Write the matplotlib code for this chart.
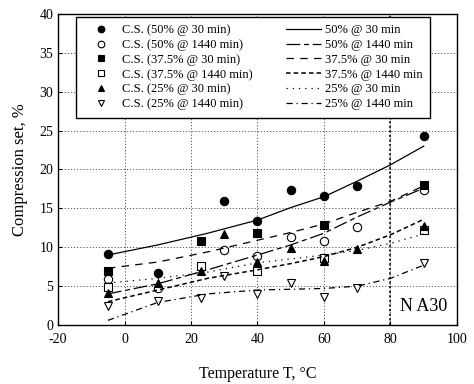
import matplotlib
matplotlib.use("Agg")
import matplotlib.pyplot as plt

plt.rcParams['font.family'] = ['Liberation Serif', 'DejaVu Serif']
plt.rcParams['axes.unicode_minus'] = False

# Measured points (temperature, compression set)
t50_30 = [-5, 10, 30, 40, 50, 60, 70, 90]
cs50_30 = [9.15, 6.75, 15.9, 13.4, 17.3, 16.55, 17.85, 24.35]
t50_1440 = [-5, 10, 30, 40, 50, 60, 70, 90]
cs50_1440 = [5.9, 4.7, 9.65, 8.9, 11.3, 10.75, 12.6, 17.4]
t375_30 = [-5, 23, 40, 60, 90]
cs375_30 = [6.96, 10.85, 11.8, 12.8, 18.05]
t375_1440 = [-5, 23, 40, 60, 90]
cs375_1440 = [4.95, 7.6, 7.0, 8.6, 12.25]
t25_30 = [-5, 10, 23, 30, 40, 50, 60, 70, 90]
cs25_30 = [4.07, 5.46, 6.9, 11.7, 8.05, 9.9, 8.2, 9.8, 12.75]
t25_1440 = [-5, 10, 23, 30, 40, 50, 60, 70, 90]
cs25_1440 = [2.45, 3.1, 3.45, 6.25, 4.0, 5.4, 3.65, 4.8, 7.95]

# Fitted curves
tfit = [-5, 10, 25, 40, 50, 60, 70, 80, 90]
fit50_30 = [9.0, 10.3, 11.8, 13.5, 15.1, 16.5, 18.5, 20.6, 23.0]
fit50_1440 = [4.0, 5.3, 7.1, 9.0, 10.3, 11.8, 13.9, 15.8, 17.6]
fit375_30 = [7.3, 8.1, 9.4, 10.9, 11.9, 13.0, 14.5, 15.9, 17.9]
fit375_1440 = [3.0, 4.5, 6.0, 7.1, 7.9, 8.8, 10.0, 11.6, 13.6]
fit25_30 = [5.4, 6.0, 6.8, 8.0, 8.5, 9.0, 9.6, 10.5, 11.7]
fit25_1440 = [0.6, 2.9, 4.0, 4.5, 4.6, 4.7, 5.0, 6.0, 7.7]

xticks = [-20, 0, 20, 40, 60, 80, 100]
yticks = [0, 5, 10, 15, 20, 25, 30, 35, 40]

fig = plt.figure(figsize=(4.74, 3.84), dpi=100)
ax = fig.add_axes([0.1224, 0.1536, 0.8416, 0.81])

ax.set_xlim(-20, 100)
ax.set_ylim(0, 40)
ax.set_xticks(xticks)
ax.set_yticks(yticks)
ax.grid(True, linestyle=(0, (1.2, 2.0)), color='#555555', linewidth=0.7)
ax.axvline(80, color='black', linestyle=(0, (1.5, 1.5)), linewidth=1.1, zorder=1)
ax.set_axisbelow(True)

mk = dict(linestyle='none', color='black', markersize=6, markeredgewidth=0.8)
h1, = ax.plot(t50_30, cs50_30, marker='o', markerfacecolor='black', label='C.S. (50% @ 30 min)', **mk)
h2, = ax.plot(t50_1440, cs50_1440, marker='o', markerfacecolor='white', label='C.S. (50% @ 1440 min)', **mk)
h3, = ax.plot(t375_30, cs375_30, marker='s', markerfacecolor='black', label='C.S. (37.5% @ 30 min)', **mk)
h4, = ax.plot(t375_1440, cs375_1440, marker='s', markerfacecolor='white', label='C.S. (37.5% @ 1440 min)', **mk)
h5, = ax.plot(t25_30, cs25_30, marker='^', markerfacecolor='black', label='C.S. (25% @ 30 min)', **mk)
h6, = ax.plot(t25_1440, cs25_1440, marker='v', markerfacecolor='white', label='C.S. (25% @ 1440 min)', **mk)

lw = 0.9
l1, = ax.plot(tfit, fit50_30, color='black', lw=lw, linestyle='-', label='50% @ 30 min')
l2, = ax.plot(tfit, fit50_1440, color='black', lw=lw, linestyle=(0, (11, 3, 4, 3)), label='50% @ 1440 min')
l3, = ax.plot(tfit, fit375_30, color='black', lw=lw, linestyle=(0, (6, 5)), label='37.5% @ 30 min')
l4, = ax.plot(tfit, fit375_1440, color='black', lw=1.1, linestyle=(0, (3, 2)), label='37.5% @ 1440 min')
l5, = ax.plot(tfit, fit25_30, color='black', lw=lw, linestyle=(0, (1, 4)), label='25% @ 30 min')
l6, = ax.plot(tfit, fit25_1440, color='black', lw=lw, linestyle=(0, (5, 3, 1, 3)), label='25% @ 1440 min')

leg = ax.legend(handles=[h1, h2, h3, h4, h5, h6, l1, l2, l3, l4, l5, l6], ncol=2,
                loc='upper left', bbox_to_anchor=(0.044, 0.991), borderaxespad=0,
                fontsize=9, markerscale=0.8,
                frameon=True, fancybox=False, edgecolor='black', framealpha=1,
                labelspacing=0.22, handlelength=2.8, handletextpad=0.3,
                columnspacing=2.7, borderpad=0.6, markerfirst=True)
leg.get_frame().set_linewidth(1.0)

ax.text(97, 1.3, 'N A30', ha='right', va='bottom', fontsize=13)

ax.tick_params(direction='in', length=3, labelsize=10, width=0.8)
ax.tick_params(axis='x', pad=6)
for s in ax.spines.values():
    s.set_linewidth(1.0)
ax.set_xlabel('Temperature T, °C', fontsize=11.5, labelpad=14)
ax.set_ylabel('Compression set, %', fontsize=12, labelpad=8)

fig.savefig('out.png', dpi=100)
